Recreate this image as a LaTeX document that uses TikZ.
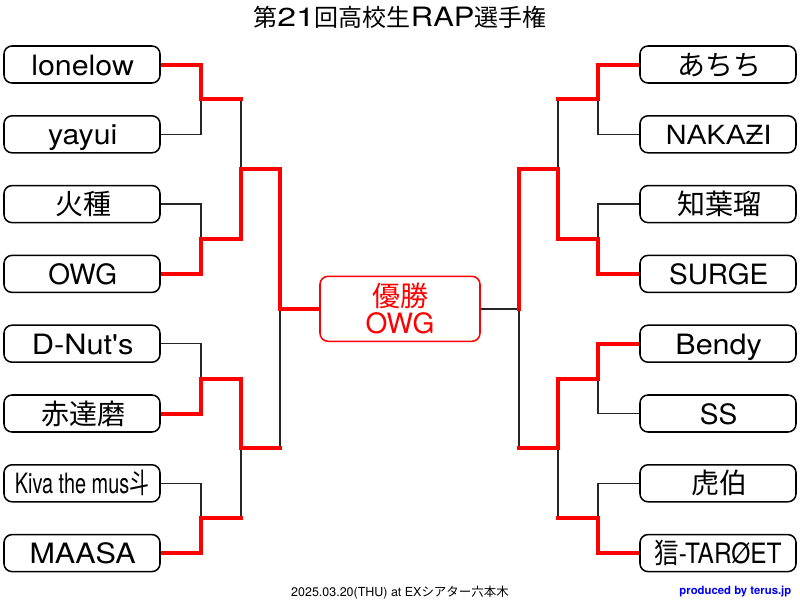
\documentclass[tikz,border=0pt]{standalone}
\usepackage{fontspec}
\usepackage{graphicx}
\setmainfont{TeX Gyre Heros}
\newfontfamily\plainf{TeX Gyre Heros}
\newfontfamily\zfont{Liberation Sans}
\newfontfamily\cjk{Noto Sans CJK JP}
\newcommand{\sx}[2]{\scalebox{#1}[1]{#2}}
\pgfdeclarelayer{wires}
\pgfsetlayers{wires,main}
\begin{document}
\begin{tikzpicture}[x=0.75pt,y=-0.75pt,
  player/.style={draw=black,line width=1.15pt,rounded corners=6pt,minimum width=156*0.75pt,minimum height=37*0.75pt,inner sep=0pt,font=\fontsize{21}{21}\selectfont,text=black,fill=white,text height=18pt,text depth=2.2pt},
  champ/.style={draw=red,line width=1.15pt,rounded corners=6pt,minimum width=160*0.75pt,minimum height=65*0.75pt,inner sep=0pt,font=\fontsize{21}{21}\selectfont,text=red,fill=white,align=center},
  lose/.style={draw=black!85,line width=1.1pt},
  win/.style={draw=red,line width=3pt,line join=miter,line cap=rect}]
\useasboundingbox (0,0) rectangle (800,600);
\node (title) at (400,17) {\fontsize{18}{18}\selectfont{\cjk 第}\fontsize{19.5}{19.5}\selectfont\sx{1.3}{21}\fontsize{18}{18}\selectfont{\cjk 回高校生}\fontsize{20}{20}\selectfont\sx{1.16}{RAP}\fontsize{18}{18}\selectfont{\cjk 選手権}};
% coordinates
\foreach \n/\y in {a/64.5,b/134.3,c/204.1,d/273.9,e/343.7,f/413.5,g/483.3,h/553.1}{
  \coordinate (L\n) at (201,\y);
  \coordinate (R\n) at (598,\y);
}
\foreach \n/\y in {ab/99.4,cd/239,ef/378.6,gh/518.2}{
  \coordinate (L\n) at (201,\y);
  \coordinate (LL\n) at (241,\y);
  \coordinate (R\n) at (598,\y);
  \coordinate (RR\n) at (558,\y);
}
\coordinate (Ltop) at (241,169.2);\coordinate (Lbot) at (241,448.4);
\coordinate (LLtop) at (280,169.2);\coordinate (LLbot) at (280,448.4);\coordinate (LLmid) at (280,308.8);
\coordinate (Rtop) at (558,169.2);\coordinate (Rbot) at (558,448.4);
\coordinate (RRtop) at (519,169.2);\coordinate (RRbot) at (519,448.4);\coordinate (RRmid) at (519,308.8);
% nodes
\node[player] (p1) at (82,64.5) {\hspace{1pt}\sx{1.085}{lonelow}};
\node[player] (p2) at (82,134.3) {\hspace{1pt}\sx{1.08}{yayui}};
\node[player] (p3) at (82,204.1) {\hspace{2pt}{\cjk 火種}};
\node[player] (p4) at (82,273.9) {\hspace{1pt}OWG};
\node[player] (p5) at (82,343.7) {\hspace{1pt}\sx{1.1}{\plainf D-Nut's}};
\node[player] (p6) at (82,413.5) {\hspace{2pt}{\cjk 赤達磨}};
\node[player] (p7) at (82,483.3) {\sx{0.71}{Kiva the mus{\cjk 斗}}};
\node[player] (p8) at (82,553.1) {\hspace{1pt}\sx{1.09}{MAASA}};
\node[player] (q1) at (718,64.5) {\hspace{2pt}{\cjk あちち}};
\node[player] (q2) at (718,134.3) {\hspace{1pt}\sx{1.05}{\zfont NAKAƵI}};
\node[player] (q3) at (718,204.1) {\hspace{2pt}{\cjk 知葉瑠}};
\node[player] (q4) at (718,273.9) {\hspace{1pt}SURGE};
\node[player] (q5) at (718,343.7) {\hspace{1pt}\sx{1.09}{Bendy}};
\node[player] (q6) at (718,413.5) {\hspace{1pt}SS};
\node[player] (q7) at (718,483.3) {\hspace{2pt}{\cjk 虎伯}};
\node[player] (q8) at (718,553.1) {\sx{0.875}{{\cjk 狺}-TARØET}};
\node[champ] (w) at (400,308.8) {{\cjk 優勝}\\[-1pt]OWG};
\begin{pgfonlayer}{wires}
\draw[lose] (p2.east) -- (Lb) -- (Lab);
\draw[lose] (p3.east) -- (Lc) -- (Lcd);
\draw[lose] (p5.east) -- (Le) -- (Lef);
\draw[lose] (p7.east) -- (Lg) -- (Lgh);
\draw[lose] (q2.west) -- (Rb) -- (Rab);
\draw[lose] (q3.west) -- (Rc) -- (Rcd);
\draw[lose] (q6.west) -- (Rf) -- (Ref);
\draw[lose] (q7.west) -- (Rg) -- (Rgh);
\draw[lose] (LLab) -- (Ltop);
\draw[lose] (LLgh) -- (Lbot);
\draw[lose] (LLbot) -- (LLmid);
\draw[lose] (RRab) -- (Rtop);
\draw[lose] (RRgh) -- (Rbot);
\draw[lose] (RRbot) -- (RRmid);
\draw[lose] (w.east) -- (RRmid);
\draw[win] (p1.east) -- (La) -- (Lab) -- (LLab);
\draw[win] (p4.east) -- (Ld) -- (Lcd) -- (LLcd) -- (Ltop) -- (LLtop) -- (LLmid) -- (w.west);
\draw[win] (p6.east) -- (Lf) -- (Lef) -- (LLef) -- (Lbot) -- (LLbot);
\draw[win] (p8.east) -- (Lh) -- (Lgh) -- (LLgh);
\draw[win] (q1.west) -- (Ra) -- (Rab) -- (RRab);
\draw[win] (q4.west) -- (Rd) -- (Rcd) -- (RRcd) -- (Rtop) -- (RRtop) -- (RRmid);
\draw[win] (q5.west) -- (Re) -- (Ref) -- (RRef) -- (Rbot) -- (RRbot);
\draw[win] (q8.west) -- (Rh) -- (Rgh) -- (RRgh);
\end{pgfonlayer}
% footer
\node[font=\fontsize{9.35}{9.35}\selectfont] (date) at (400,593) {2025.03.20(THU) at EX{\cjk シアター六本木}};
\node[font=\fontsize{8.5}{8.5}\selectfont\bfseries,text=blue,anchor=east] (credit) at (796,592) {produced by terus.jp};
\end{tikzpicture}
\end{document}
